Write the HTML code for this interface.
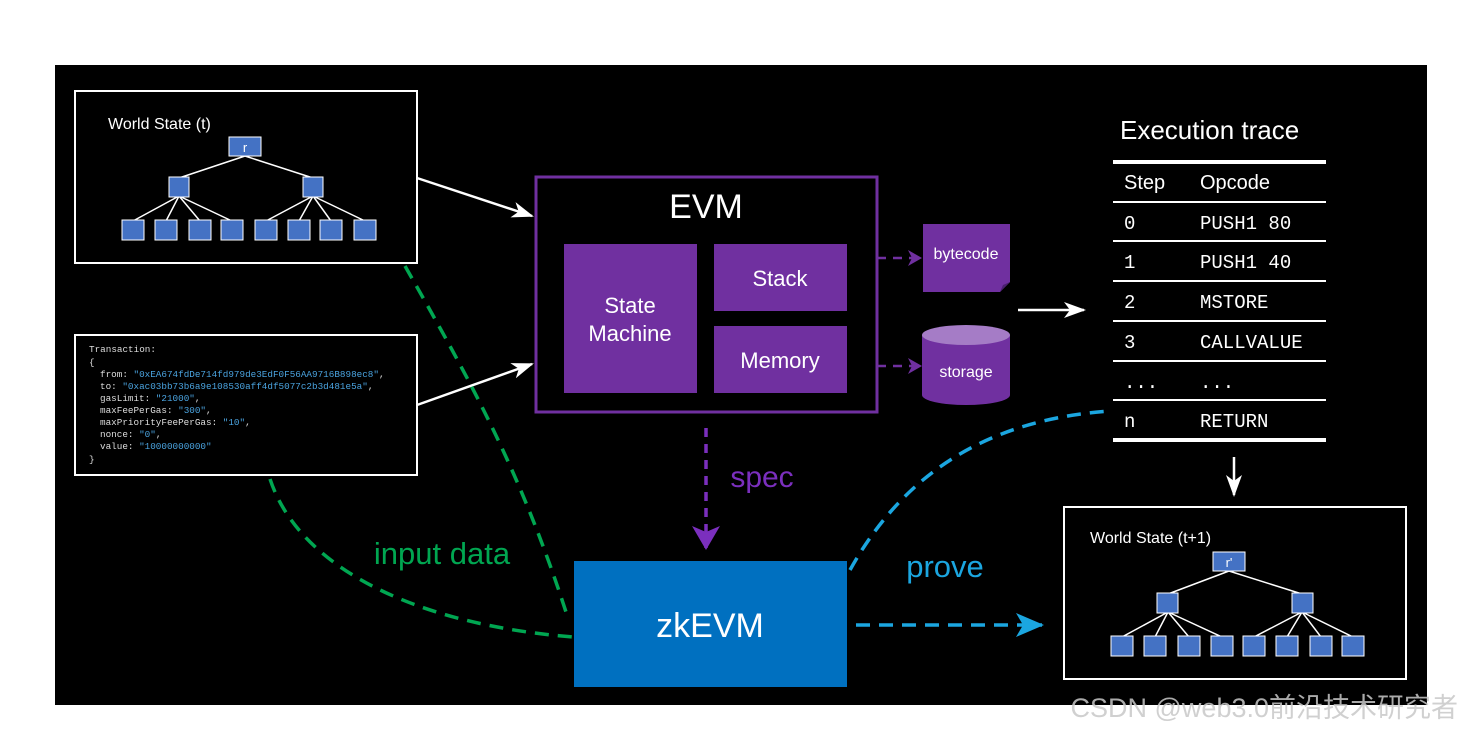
<!DOCTYPE html>
<html><head><style>body{margin:0;background:#fff}svg{display:block}</style></head><body>
<svg width="1462" height="732" xmlns="http://www.w3.org/2000/svg" font-family="Liberation Sans, sans-serif">
<defs>
<marker id="aw" markerWidth="22" markerHeight="16" refX="20" refY="8" orient="auto" markerUnits="userSpaceOnUse"><path d="M0,0 L22,8 L0,16 L6,8z" fill="#fff"/></marker>
<marker id="ap" markerWidth="16" markerHeight="16" refX="12" refY="8" orient="auto" markerUnits="userSpaceOnUse"><path d="M0,0 L14,8 L0,16 L4,8z" fill="#7030a0"/></marker>
<marker id="ab" markerWidth="28" markerHeight="24" refX="26" refY="12" orient="auto" markerUnits="userSpaceOnUse"><path d="M0,0 L28,12 L0,24 L7,12z" fill="#1ba6e0"/></marker>
<marker id="ap2" markerWidth="24" markerHeight="28" refX="22" refY="14" orient="auto" markerUnits="userSpaceOnUse"><path d="M0,0 L24,14 L0,28 L6,14z" fill="#7b2fbe"/></marker>
</defs>
<rect x="55" y="65" width="1372" height="640" fill="#000"/>

<rect x="75" y="91" width="342" height="172" fill="none" stroke="#fff" stroke-width="2"/>
<text x="108" y="129" fill="#fff" font-size="16">World State (t)</text>
<g stroke="#fff" stroke-width="1.5">
<line x1="245" y1="156" x2="179" y2="178"/><line x1="245" y1="156" x2="313" y2="178"/>
<line x1="179" y1="196" x2="133" y2="221"/><line x1="179" y1="196" x2="166" y2="221"/><line x1="179" y1="196" x2="200" y2="221"/><line x1="179" y1="196" x2="232" y2="221"/>
<line x1="313" y1="196" x2="266" y2="221"/><line x1="313" y1="196" x2="299" y2="221"/><line x1="313" y1="196" x2="331" y2="221"/><line x1="313" y1="196" x2="365" y2="221"/>
</g>
<g fill="#4472c4" stroke="#fff" stroke-width="1">
<rect x="229" y="137" width="32" height="19"/><rect x="169" y="177" width="20" height="20"/><rect x="303" y="177" width="20" height="20"/>
<rect x="122" y="220" width="22" height="20"/><rect x="155" y="220" width="22" height="20"/><rect x="189" y="220" width="22" height="20"/><rect x="221" y="220" width="22" height="20"/>
<rect x="255" y="220" width="22" height="20"/><rect x="288" y="220" width="22" height="20"/><rect x="320" y="220" width="22" height="20"/><rect x="354" y="220" width="22" height="20"/>
</g>
<text x="245" y="152" fill="#fff" font-size="13" text-anchor="middle">r</text>

<rect x="75" y="335" width="342" height="140" fill="none" stroke="#fff" stroke-width="2"/>
<g font-family="Liberation Mono, monospace" font-size="9.3" fill="#ddd">
<text x="89" y="352">Transaction:</text>
<text x="89" y="365">{</text>
<text x="100" y="377">from: <tspan fill="#4aa3df">"0xEA674fdDe714fd979de3EdF0F56AA9716B898ec8"</tspan>,</text>
<text x="100" y="389">to: <tspan fill="#4aa3df">"0xac03bb73b6a9e108530aff4df5077c2b3d481e5a"</tspan>,</text>
<text x="100" y="401">gasLimit: <tspan fill="#4aa3df">"21000"</tspan>,</text>
<text x="100" y="413">maxFeePerGas: <tspan fill="#4aa3df">"300"</tspan>,</text>
<text x="100" y="425">maxPriorityFeePerGas: <tspan fill="#4aa3df">"10"</tspan>,</text>
<text x="100" y="437">nonce: <tspan fill="#4aa3df">"0"</tspan>,</text>
<text x="100" y="449">value: <tspan fill="#4aa3df">"10000000000"</tspan></text>
<text x="89" y="462">}</text>
</g>

<g stroke="#fff" stroke-width="2.5" fill="none">
<line x1="417" y1="178" x2="532" y2="216" marker-end="url(#aw)"/>
<line x1="417" y1="405" x2="532" y2="364" marker-end="url(#aw)"/>
<line x1="1018" y1="310" x2="1084" y2="310" marker-end="url(#aw)"/>
<line x1="1234" y1="457" x2="1234" y2="495" marker-end="url(#aw)"/>
</g>

<rect x="536" y="177" width="341" height="235" fill="none" stroke="#7030a0" stroke-width="3"/>
<text x="706" y="218" fill="#fff" font-size="34" text-anchor="middle">EVM</text>
<rect x="564" y="244" width="133" height="149" fill="#7030a0"/>
<text x="630" y="313" fill="#fff" font-size="22" text-anchor="middle">State</text>
<text x="630" y="341" fill="#fff" font-size="22" text-anchor="middle">Machine</text>
<rect x="714" y="244" width="133" height="67" fill="#7030a0"/>
<text x="780" y="286" fill="#fff" font-size="22" text-anchor="middle">Stack</text>
<rect x="714" y="326" width="133" height="67" fill="#7030a0"/>
<text x="780" y="368" fill="#fff" font-size="22" text-anchor="middle">Memory</text>

<g stroke="#7030a0" stroke-width="2.5" stroke-dasharray="9,7" fill="none">
<line x1="877" y1="258" x2="920" y2="258" marker-end="url(#ap)"/>
<line x1="877" y1="366" x2="920" y2="366" marker-end="url(#ap)"/>
<line x1="706" y1="428" x2="706" y2="548" stroke="#7b2fbe" stroke-width="3.5" marker-end="url(#ap2)"/>
</g>
<path d="M923,224 H1010 V282 L1000,292 H923 Z" fill="#7030a0"/>
<path d="M1000,292 L1010,282 L1003,285z" fill="#4a1f6e"/>
<text x="966" y="259" fill="#fff" font-size="16" text-anchor="middle">bytecode</text>
<path d="M922,335 V395 A44,10 0 0 0 1010,395 V335 Z" fill="#7030a0"/>
<ellipse cx="966" cy="335" rx="44" ry="10" fill="#a57cc6"/>
<text x="966" y="377" fill="#fff" font-size="16" text-anchor="middle">storage</text>
<text x="762" y="487" fill="#7b2fbe" font-size="30" text-anchor="middle">spec</text>

<text x="1120" y="139" fill="#fff" font-size="26">Execution trace</text>
<g stroke="#fff">
<line x1="1113" y1="162" x2="1326" y2="162" stroke-width="4"/>
<line x1="1113" y1="202" x2="1326" y2="202" stroke-width="2"/>
<line x1="1113" y1="241" x2="1326" y2="241" stroke-width="2"/>
<line x1="1113" y1="281" x2="1326" y2="281" stroke-width="2"/>
<line x1="1113" y1="321" x2="1326" y2="321" stroke-width="2"/>
<line x1="1113" y1="361" x2="1326" y2="361" stroke-width="2"/>
<line x1="1113" y1="400" x2="1326" y2="400" stroke-width="2"/>
<line x1="1113" y1="440" x2="1326" y2="440" stroke-width="4"/>
</g>
<text x="1124" y="189" fill="#fff" font-size="20">Step</text>
<text x="1200" y="189" fill="#fff" font-size="20">Opcode</text>
<g fill="#fff" font-family="Liberation Mono, monospace" font-size="19">
<text x="1124" y="229">0</text><text x="1200" y="229">PUSH1 80</text>
<text x="1124" y="268">1</text><text x="1200" y="268">PUSH1 40</text>
<text x="1124" y="308">2</text><text x="1200" y="308">MSTORE</text>
<text x="1124" y="348">3</text><text x="1200" y="348">CALLVALUE</text>
<text x="1124" y="388">...</text><text x="1200" y="388">...</text>
<text x="1124" y="427">n</text><text x="1200" y="427">RETURN</text>
</g>

<rect x="1064" y="507" width="342" height="172" fill="none" stroke="#fff" stroke-width="2"/>
<text x="1090" y="543" fill="#fff" font-size="16">World State (t+1)</text>
<g stroke="#fff" stroke-width="1.5">
<line x1="1229" y1="571" x2="1168" y2="594"/><line x1="1229" y1="571" x2="1302" y2="594"/>
<line x1="1168" y1="612" x2="1122" y2="637"/><line x1="1168" y1="612" x2="1155" y2="637"/><line x1="1168" y1="612" x2="1189" y2="637"/><line x1="1168" y1="612" x2="1222" y2="637"/>
<line x1="1302" y1="612" x2="1254" y2="637"/><line x1="1302" y1="612" x2="1287" y2="637"/><line x1="1302" y1="612" x2="1321" y2="637"/><line x1="1302" y1="612" x2="1353" y2="637"/>
</g>
<g fill="#4472c4" stroke="#fff" stroke-width="1">
<rect x="1213" y="552" width="32" height="19"/><rect x="1157" y="593" width="21" height="20"/><rect x="1292" y="593" width="21" height="20"/>
<rect x="1111" y="636" width="22" height="20"/><rect x="1144" y="636" width="22" height="20"/><rect x="1178" y="636" width="22" height="20"/><rect x="1211" y="636" width="22" height="20"/>
<rect x="1243" y="636" width="22" height="20"/><rect x="1276" y="636" width="22" height="20"/><rect x="1310" y="636" width="22" height="20"/><rect x="1342" y="636" width="22" height="20"/>
</g>
<text x="1229" y="567" fill="#fff" font-size="13" text-anchor="middle">r'</text>

<g stroke="#00a651" stroke-width="3.5" stroke-dasharray="14,9" fill="none">
<path d="M405,266 C470,380 520,470 566,612"/>
<path d="M270,479 C300,570 420,625 573,637"/>
</g>
<text x="442" y="564" fill="#00a651" font-size="31" text-anchor="middle">input data</text>

<rect x="574" y="561" width="273" height="126" fill="#0070c0"/>
<text x="710" y="637" fill="#fff" font-size="34" text-anchor="middle">zkEVM</text>

<g stroke="#1ba6e0" stroke-width="3.5" stroke-dasharray="14,9" fill="none">
<path d="M850,570 C900,480 980,420 1110,411"/>
<line x1="856" y1="625" x2="1042" y2="625" marker-end="url(#ab)"/>
</g>
<text x="945" y="577" fill="#1ba6e0" font-size="31" text-anchor="middle">prove</text>

<text x="1458" y="717" fill="#c8c8c8" fill-opacity="0.85" font-size="27" text-anchor="end" font-family="Liberation Sans, Noto Sans CJK SC, sans-serif">CSDN @web3.0前沿技术研究者</text>
</svg>
</body></html>
